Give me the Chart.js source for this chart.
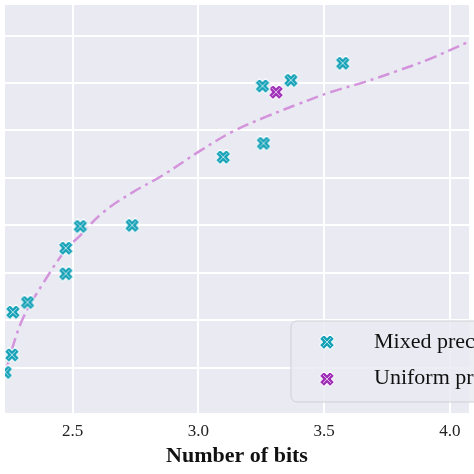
<!DOCTYPE html>
<html><head><meta charset="utf-8">
<script src="https://cdn.jsdelivr.net/npm/chart.js@4"></script>
<style>html,body{margin:0;padding:0;background:#fff}#w{width:474px;height:474px}</style>
</head><body><div id="w"><canvas id="c"></canvas></div>
<script>
const xTicks=[2.5,3.0,3.5,4.0];
const mixedX=[2.232,2.259,2.263,2.321,2.473,2.473,2.531,2.737,3.099,3.259,3.255,3.368,3.574];
const mixedY=[0.90,1.27,2.17,2.375,2.98,3.52,3.98,4.00,5.44,5.73,6.94,7.06,7.42];
const uniformX=[3.309];
const uniformY=[6.81];
const fitX=[2.232,2.298,2.387,2.473,2.531,2.621,2.737,2.854,3.010,3.138,3.270,3.399,3.527,3.660,3.788,3.916,4.076];
const fitY=[0.875,1.98,2.81,3.48,3.79,4.27,4.69,5.04,5.58,5.98,6.29,6.56,6.81,7.02,7.25,7.50,7.875];
const pts=(xs,ys)=>xs.map((x,i)=>({x,y:ys[i]}));
function xMarker(color){
  const s=20,c=document.createElement('canvas');c.width=s;c.height=s;const g=c.getContext('2d');
  g.translate(s/2,s/2);g.rotate(Math.PI/4);
  const a=7.5,b=3.2;
  g.beginPath();g.moveTo(-b,-a);g.lineTo(b,-a);g.lineTo(b,-b);g.lineTo(a,-b);g.lineTo(a,b);g.lineTo(b,b);g.lineTo(b,a);g.lineTo(-b,a);g.lineTo(-b,b);g.lineTo(-a,b);g.lineTo(-a,-b);g.lineTo(-b,-b);g.closePath();
  g.fillStyle=color;g.fill();g.strokeStyle='#fff';g.lineWidth=1;g.stroke();
  g.beginPath();g.moveTo(-a+2,0);g.lineTo(a-2,0);g.moveTo(0,-a+2);g.lineTo(0,a-2);g.strokeStyle='rgba(255,255,255,0.8)';g.lineWidth=0.8;g.stroke();
  return c;
}
const mTeal=xMarker('#17a2b8'), mPurp=xMarker('#a030b8');
const bg={id:'bg',beforeDraw(ch){const a=ch.chartArea,g=ch.ctx;g.save();g.fillStyle='#eaeaf2';g.fillRect(a.left,a.top,a.right-a.left,a.bottom-a.top);g.restore();},
afterDraw(ch){const g=ch.ctx;g.save();
 const x=291,y=321,w=200,h=81,r=6;g.beginPath();g.roundRect(x,y,w,h,r);g.fillStyle='rgba(234,234,242,0.85)';g.fill();g.strokeStyle='#cfcfd6';g.lineWidth=1;g.stroke();
 g.drawImage(mTeal,317,332);g.drawImage(mPurp,317,369);
 g.fillStyle='#111';g.font='22px "Liberation Serif"';g.textBaseline='middle';g.fillText('Mixed precision',374,342);g.fillText('Uniform precision',374,378);g.restore();}};
new Chart(document.getElementById('c'),{
 data:{datasets:[
  {type:'line',label:'fit',data:pts(fitX,fitY),borderColor:'#d494dc',borderWidth:2.5,borderDash:[12,5,3,5],pointRadius:0,tension:0.4,fill:false,order:2},
  {type:'scatter',label:'Mixed precision',data:pts(mixedX,mixedY),pointStyle:mTeal,order:1},
  {type:'scatter',label:'Uniform precision',data:pts(uniformX,uniformY),pointStyle:mPurp,order:1}
 ]},
 options:{responsive:true,maintainAspectRatio:false,animation:false,
  layout:{padding:0},
  plugins:{legend:{display:false},tooltip:{enabled:false}},
  scales:{
   x:{type:'linear',min:2.2315,max:4.076,
    afterBuildTicks(s){s.ticks=xTicks.map(v=>({value:v}));},
    afterFit(s){s.height=61;},
    grid:{color:'#fff',lineWidth:2,drawTicks:false},border:{display:false},
    ticks:{padding:8,color:'#222',font:{family:'Liberation Serif',size:17},callback:v=>v.toFixed(1)},
    title:{display:true,text:'Number of bits',color:'#111',padding:{top:2},font:{family:'Liberation Serif',size:22,weight:'bold'}}},
   y:{type:'linear',min:0.0417,max:8.646,
    afterBuildTicks(s){s.ticks=[1,2,3,4,5,6,7,8].map(v=>({value:v}));},
    afterFit(s){s.width=0;},
    grid:{color:'#fff',lineWidth:2,drawTicks:false},border:{display:false},ticks:{display:false}}
  }},
 plugins:[bg]});
</script></body></html>
